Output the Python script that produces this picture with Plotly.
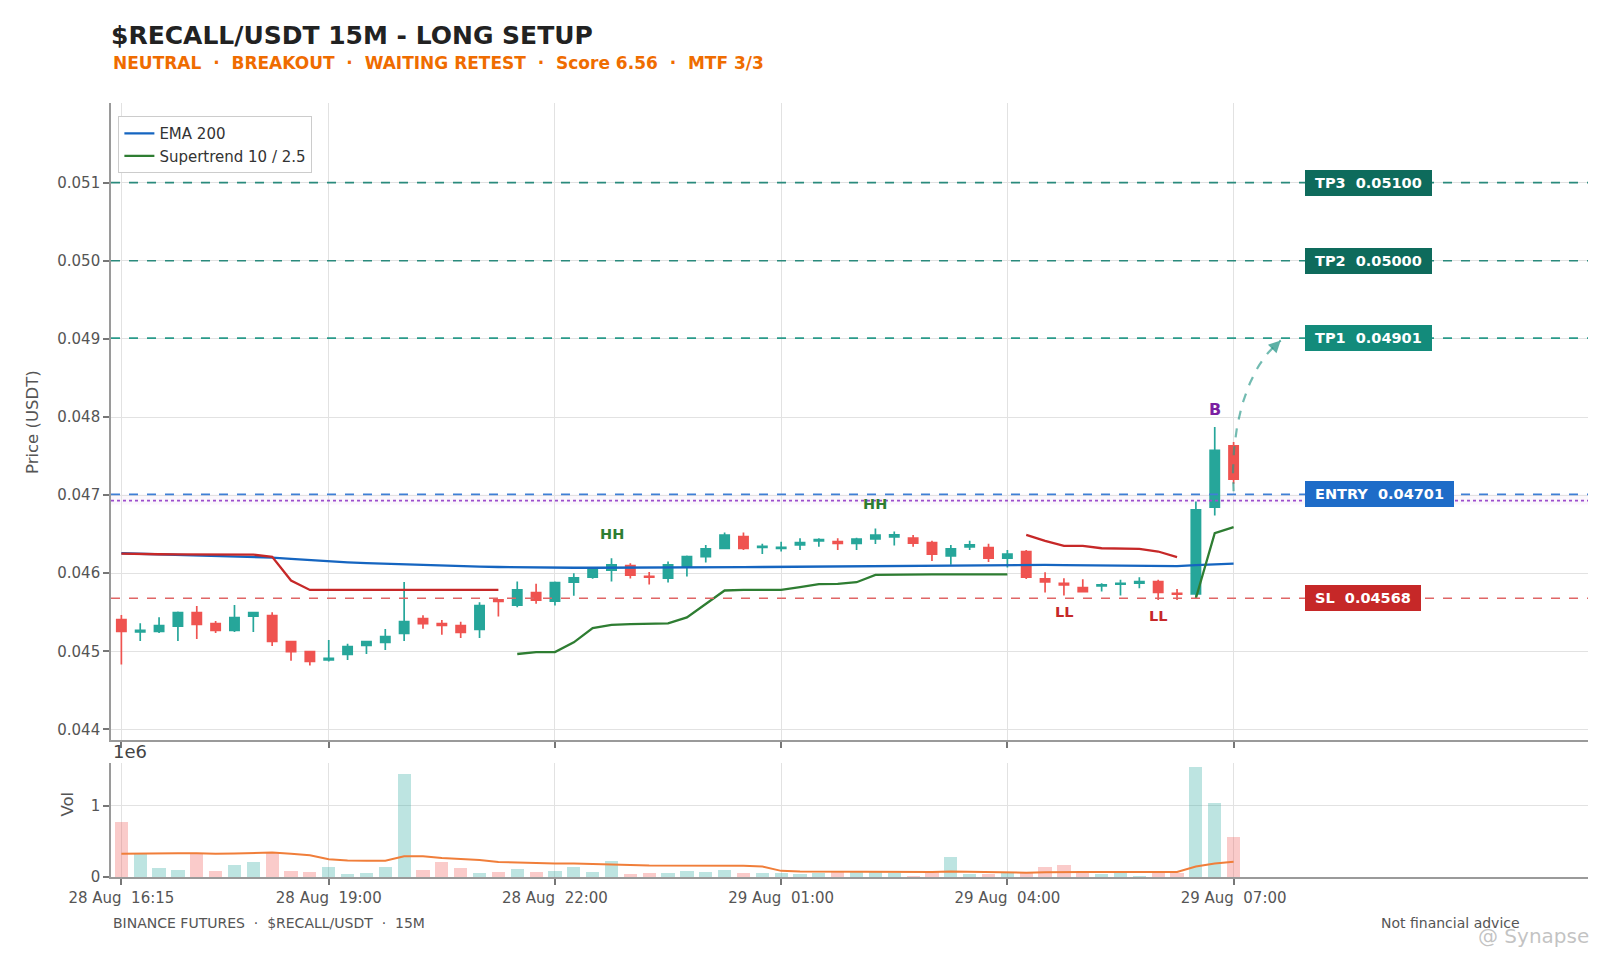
import numpy as np
import pandas as pd
import plotly.graph_objects as go
from plotly.subplots import make_subplots

# 15M candles, 28 Aug 16:15 -> 29 Aug 07:00
times = pd.date_range("2025-08-28 16:15", periods=60, freq="15min")

opens = [0.045406, 0.045250, 0.045256, 0.045321, 0.045496, 0.045355, 0.045269, 0.045449, 0.045457, 0.045124,
         0.044996, 0.044890, 0.044962, 0.045077, 0.045115, 0.045231, 0.045419, 0.045355, 0.045329, 0.045282,
         0.045660, 0.045591, 0.045753, 0.045643, 0.045885, 0.045949, 0.046038, 0.046098, 0.045960, 0.045936,
         0.046085, 0.046213, 0.046319, 0.046468, 0.046332, 0.046319, 0.046362, 0.046413, 0.046404, 0.046383,
         0.046438, 0.046466, 0.046449, 0.046393, 0.046222, 0.046338, 0.046329, 0.046192, 0.046278, 0.045927,
         0.045872, 0.045816, 0.045838, 0.045860, 0.045872, 0.045893, 0.045744, 0.045735, 0.046846, 0.047632]
highs = [0.045466, 0.045359, 0.045436, 0.045509, 0.045581, 0.045389, 0.045594, 0.045500, 0.045500, 0.045124,
         0.044996, 0.045145, 0.045098, 0.045132, 0.045286, 0.045889, 0.045462, 0.045402, 0.045380, 0.045628,
         0.045670, 0.045894, 0.045864, 0.045894, 0.046000, 0.046072, 0.046191, 0.046128, 0.046017, 0.046149,
         0.046226, 0.046362, 0.046523, 0.046523, 0.046379, 0.046404, 0.046447, 0.046447, 0.046447, 0.046455,
         0.046574, 0.046534, 0.046491, 0.046415, 0.046363, 0.046415, 0.046376, 0.046299, 0.046299, 0.046013,
         0.045936, 0.045923, 0.045872, 0.045915, 0.045949, 0.045915, 0.045799, 0.046919, 0.047872, 0.047680]
lows = [0.044830, 0.045132, 0.045235, 0.045132, 0.045158, 0.045235, 0.045248, 0.045248, 0.045068, 0.044880,
        0.044820, 0.044870, 0.044890, 0.044966, 0.045017, 0.045132, 0.045290, 0.045214, 0.045171, 0.045171,
        0.045447, 0.045566, 0.045609, 0.045587, 0.045711, 0.045928, 0.045894, 0.045932, 0.045855, 0.045881,
        0.045957, 0.046136, 0.046306, 0.046298, 0.046247, 0.046277, 0.046298, 0.046340, 0.046298, 0.046298,
        0.046374, 0.046355, 0.046338, 0.046158, 0.046107, 0.046299, 0.046145, 0.046073, 0.045927, 0.045752,
        0.045714, 0.045756, 0.045765, 0.045714, 0.045808, 0.045658, 0.045658, 0.045679, 0.046739, 0.047145]
closes = [0.045256, 0.045270, 0.045329, 0.045496, 0.045346, 0.045269, 0.045432, 0.045496, 0.045128, 0.044996,
          0.044870, 0.044910, 0.045060, 0.045124, 0.045188, 0.045380, 0.045355, 0.045333, 0.045244, 0.045585,
          0.045640, 0.045787, 0.045655, 0.045881, 0.045940, 0.046043, 0.046106, 0.045974, 0.045950, 0.046106,
          0.046213, 0.046311, 0.046489, 0.046319, 0.046345, 0.046332, 0.046391, 0.046430, 0.046383, 0.046438,
          0.046489, 0.046491, 0.046385, 0.046244, 0.046312, 0.046363, 0.046192, 0.046244, 0.045949, 0.045889,
          0.045850, 0.045765, 0.045850, 0.045872, 0.045893, 0.045756, 0.045731, 0.046812, 0.047573, 0.047205]
volume = [757000, 324000, 114000, 86000, 324000, 71000, 157000, 200000, 333000, 71000,
          57000, 129000, 29000, 43000, 129000, 1443000, 86000, 200000, 114000, 43000,
          57000, 100000, 57000, 71000, 129000, 57000, 214000, 29000, 43000, 43000,
          71000, 57000, 86000, 43000, 43000, 43000, 29000, 43000, 57000, 57000,
          57000, 43000, 14000, 57000, 271000, 29000, 29000, 43000, 57000, 129000,
          157000, 57000, 29000, 43000, 14000, 43000, 43000, 1529000, 1029000, 548000]
vol_ma = [324000, 330000, 333000, 333000, 333000, 325000, 330000, 337000, 343000, 325000,
          305000, 248000, 232000, 229000, 229000, 290000, 290000, 267000, 257000, 238000,
          210000, 200000, 190000, 190000, 190000, 185000, 181000, 167000, 160000, 160000,
          160000, 157000, 160000, 157000, 148000, 86000, 78000, 76000, 74000, 72000,
          71000, 70000, 70000, 70000, 76000, 71000, 62000, 57000, 60000, 65000,
          71000, 71000, 71000, 71000, 71000, 71000, 71000, 148000, 190000, 214000]
ema200 = [0.046256, 0.046250, 0.046244, 0.046238, 0.046232, 0.046226, 0.046220, 0.046212, 0.046201, 0.046185,
          0.046168, 0.046150, 0.046140, 0.046130, 0.046121, 0.046113, 0.046105, 0.046098, 0.046091, 0.046085,
          0.046080, 0.046076, 0.046073, 0.046071, 0.046070, 0.046070, 0.046070, 0.046070, 0.046070, 0.046071,
          0.046072, 0.046074, 0.046076, 0.046078, 0.046080, 0.046082, 0.046084, 0.046087, 0.046090, 0.046093,
          0.046096, 0.046099, 0.046101, 0.046103, 0.046105, 0.046107, 0.046108, 0.046109, 0.046108, 0.046106,
          0.046104, 0.046102, 0.046100, 0.046098, 0.046096, 0.046094, 0.046092, 0.046104, 0.046114, 0.046124]
N = None
st_up = [N] * 21 + [0.044966, 0.044991, 0.044991, 0.045115, 0.045298, 0.045340, 0.045349, 0.045349, 0.045357,
                    0.045434, 0.045604, 0.045779, 0.045787, 0.045787, 0.045787, 0.045821, 0.045860, 0.045864,
                    0.045885, 0.045979, 0.045983, 0.045985, 0.045985, 0.045985, 0.045985, 0.045985, 0.045985] \
    + [N] * 9 + [0.045679, 0.046513, 0.046590]
st_down = [0.046250, 0.046244, 0.046243, 0.046242, 0.046241, 0.046240, 0.046240, 0.046238, 0.046210, 0.045906,
           0.045786, 0.045786, 0.045786, 0.045786, 0.045786, 0.045786, 0.045786, 0.045786, 0.045786, 0.045786,
           0.045786] + [N] * 27 + [0.046491, 0.046415, 0.046350, 0.046350, 0.046320, 0.046312, 0.046312,
                                   0.046278, 0.046205] + [N] * 3

# trade levels
tp3, tp2, tp1 = 0.05100, 0.05000, 0.04901
entry = 0.04701
retest = 0.04693
sl = 0.04568

# swing labels
hh_idx = [26, 40]
ll_idx = [50, 55]
b_idx = 58

tick_idx = [0, 11, 23, 35, 47, 59]
tick_text = ["28 Aug\u00a0\u00a016:15", "28 Aug\u00a0\u00a019:00", "28 Aug\u00a0\u00a022:00",
             "29 Aug\u00a0\u00a001:00", "29 Aug\u00a0\u00a004:00", "29 Aug\u00a0\u00a007:00"]

TEAL = "#26a69a"
RED = "#ef5350"
FONT = "DejaVu Sans"
NB = "\u00a0"
step = pd.Timedelta(minutes=15)

# page body adds an 8px margin, so the figure is 16px smaller than the window
W, H = 1598, 941
L, R, T, B = 103, 18, 95, 72


def at(i):
    return times[0] + step * i


fig = make_subplots(rows=2, cols=1, shared_xaxes=True, vertical_spacing=0.03)

fig.add_trace(go.Candlestick(
    x=times, open=opens, high=highs, low=lows, close=closes,
    increasing=dict(line=dict(color=TEAL, width=1.7), fillcolor=TEAL),
    decreasing=dict(line=dict(color=RED, width=1.7), fillcolor=RED),
    whiskerwidth=0, showlegend=False, name="price"), row=1, col=1)

fig.add_trace(go.Scatter(x=times, y=ema200, mode="lines", name="EMA 200",
                         line=dict(color="#1565c0", width=2.3)), row=1, col=1)
fig.add_trace(go.Scatter(x=times, y=st_up, mode="lines", name="Supertrend 10 / 2.5",
                         line=dict(color="#2e7d32", width=2.3), connectgaps=False), row=1, col=1)
fig.add_trace(go.Scatter(x=times, y=st_down, mode="lines", showlegend=False,
                         line=dict(color="#c62828", width=2.3), connectgaps=False), row=1, col=1)

# dashed projection from entry to TP1
t = np.linspace(0, 1, 40)
p0 = (59.0, entry + 0.00004)
p1 = (58.8, 0.04780)
p2 = (59.6, 0.04862)
p3 = (61.5, tp1 - 0.00003)
bx = (1 - t) ** 3 * p0[0] + 3 * (1 - t) ** 2 * t * p1[0] + 3 * (1 - t) * t ** 2 * p2[0] + t ** 3 * p3[0]
by = (1 - t) ** 3 * p0[1] + 3 * (1 - t) ** 2 * t * p1[1] + 3 * (1 - t) * t ** 2 * p2[1] + t ** 3 * p3[1]
fig.add_trace(go.Scatter(x=[at(v) for v in bx], y=by, mode="lines", showlegend=False, hoverinfo="skip",
                         line=dict(color="rgba(38,150,135,0.65)", width=2.2, dash="dash")), row=1, col=1)

vol_colors = ["rgba(38,166,154,0.3)" if c >= o else "rgba(239,83,80,0.3)" for o, c in zip(opens, closes)]
fig.add_trace(go.Bar(x=times, y=volume, marker=dict(color=vol_colors, line=dict(width=0)),
                     width=0.7 * 15 * 60 * 1000, showlegend=False), row=2, col=1)
fig.add_trace(go.Scatter(x=times, y=vol_ma, mode="lines", showlegend=False,
                         line=dict(color="#f07e3a", width=2)), row=2, col=1)

shapes = [
    dict(type="rect", xref="x domain", x0=0, x1=1, yref="y", y0=retest - 0.00005, y1=entry,
         fillcolor="rgba(156,39,176,0.04)", line=dict(width=0), layer="below"),
]
levels = [
    (tp3, "#2a8a7c", "TP3  0.05100", "#0e6b5c"),
    (tp2, "#2a8a7c", "TP2  0.05000", "#0e6b5c"),
    (tp1, "#2a9a8a", "TP1  0.04901", "#138b7b"),
    (entry, "#3f7fd6", "ENTRY  0.04701", "#1e6cc8"),
    (sl, "#e06666", "SL  0.04568", "#c62828"),
]
annotations = []
for y, lc, label, bg in levels:
    shapes.append(dict(type="line", xref="x domain", x0=0, x1=1, yref="y", y0=y, y1=y,
                       line=dict(color=lc, width=1.6, dash="dash")))
    annotations.append(dict(x=at(62.8), y=y, xref="x", yref="y", text=NB + label.replace(" ", NB) + NB,
                            showarrow=False, xanchor="left", yanchor="middle", bgcolor=bg, bordercolor=bg,
                            borderpad=4, font=dict(family=FONT, size=14.5, color="white", weight="bold")))
shapes.append(dict(type="line", xref="x domain", x0=0, x1=1, yref="y", y0=retest, y1=retest,
                   line=dict(color="#9c4dcc", width=1.8, dash="dot")))

for i in hh_idx:
    annotations.append(dict(x=times[i], y=highs[i], xref="x", yref="y", text="HH", showarrow=False,
                            yanchor="bottom", yshift=14,
                            font=dict(family=FONT, size=14.5, color="#2e7d32", weight="bold")))
for i in ll_idx:
    annotations.append(dict(x=times[i], y=lows[i], xref="x", yref="y", text="LL", showarrow=False,
                            yanchor="top", yshift=-6,
                            font=dict(family=FONT, size=14.5, color="#c62828", weight="bold")))
annotations.append(dict(x=times[b_idx], y=highs[b_idx], xref="x", yref="y", text="B", showarrow=False,
                        yanchor="bottom", yshift=6,
                        font=dict(family=FONT, size=16, color="#7b1fa2", weight="bold")))
# arrow head of projection
annotations.append(dict(x=at(p3[0]), y=p3[1], xref="x", yref="y", text="", showarrow=True,
                        ax=-9, ay=9, arrowhead=2, arrowsize=1.2, arrowwidth=2,
                        arrowcolor="rgba(38,150,135,0.75)"))

# texts around the axes
annotations += [
    dict(x=0, y=1.052, xref="paper", yref="paper", xanchor="left", yanchor="middle", showarrow=False,
         text="NEUTRAL\u00a0\u00a0·\u00a0\u00a0BREAKOUT\u00a0\u00a0·\u00a0\u00a0WAITING RETEST\u00a0\u00a0·"
              "\u00a0\u00a0Score 6.56\u00a0\u00a0·\u00a0\u00a0MTF 3/3",
         font=dict(family=FONT, size=17, color="#ef6c00", weight="bold")),
    dict(x=-0.0605, y=0.588, xref="paper", yref="paper", text="Price (USDT)", textangle=-90,
         showarrow=False, font=dict(family=FONT, size=16.5, color="#555")),
    dict(x=-0.037, y=0.076, xref="paper", yref="paper", text="Vol", textangle=-90,
         showarrow=False, font=dict(family=FONT, size=16.5, color="#555")),
    dict(x=0, y=0.162, xref="paper", yref="paper", text="1e6", xanchor="left", yanchor="middle",
         showarrow=False, font=dict(family=FONT, size=18, color="#444")),
    dict(x=0, y=-0.06, xref="paper", yref="paper", xanchor="left", yanchor="middle", showarrow=False,
         text="BINANCE FUTURES\u00a0\u00a0·\u00a0\u00a0$RECALL/USDT\u00a0\u00a0·\u00a0\u00a015M",
         font=dict(family=FONT, size=14, color="#555")),
    dict(x=0.955, y=-0.06, xref="paper", yref="paper", xanchor="right", yanchor="middle", showarrow=False,
         text="Not financial advice", font=dict(family=FONT, size=14, color="#555")),
    dict(x=0.963, y=-0.076, xref="paper", yref="paper", xanchor="center", yanchor="middle", showarrow=False,
         text="@\u00a0Synapse", font=dict(family=FONT, size=20, color="rgba(175,175,175,0.75)")),
]

x_range = [at(-0.55), at(77.8)]
axis_common = dict(showgrid=True, gridcolor="#e2e2e2", gridwidth=1.2, showline=True, linecolor="#9a9a9a",
                   linewidth=1.6, ticks="outside", ticklen=6, tickcolor="#777", tickwidth=1.5, zeroline=False,
                   tickfont=dict(family=FONT, size=15, color="#555"))

fig.update_layout(
    width=W, height=H,
    margin=dict(l=L, r=R, t=T, b=B),
    paper_bgcolor="white", plot_bgcolor="white",
    font=dict(family=FONT, color="#333"),
    title=dict(text="$RECALL/USDT 15M - LONG SETUP", x=L / W, xanchor="left",
               y=1 - 27 / H, yanchor="middle",
               font=dict(family=FONT, size=25, color="#222", weight="bold")),
    legend=dict(x=0.005, y=0.983, xanchor="left", yanchor="top", bgcolor="white",
                bordercolor="#cccccc", borderwidth=1, font=dict(family=FONT, size=15, color="#333"),
                tracegroupgap=2),
    shapes=shapes, annotations=annotations,
    bargap=0, showlegend=True,
)
fig.update_layout(
    xaxis=dict(**axis_common, range=x_range, tickvals=[times[i] for i in tick_idx],
               showticklabels=False, rangeslider=dict(visible=False)),
    xaxis2=dict(**axis_common, range=x_range, tickvals=[times[i] for i in tick_idx], ticktext=tick_text),
    yaxis=dict(**axis_common, domain=[0.1765, 1], range=[0.04386, 0.05202],
               tickvals=[0.044, 0.045, 0.046, 0.047, 0.048, 0.049, 0.050, 0.051], tickformat=".3f"),
    yaxis2=dict(**axis_common, domain=[0, 0.1467], range=[0, 1.59e6], tickvals=[0, 1e6], ticktext=["0", "1"]),
)

fig.write_html("out.html")
